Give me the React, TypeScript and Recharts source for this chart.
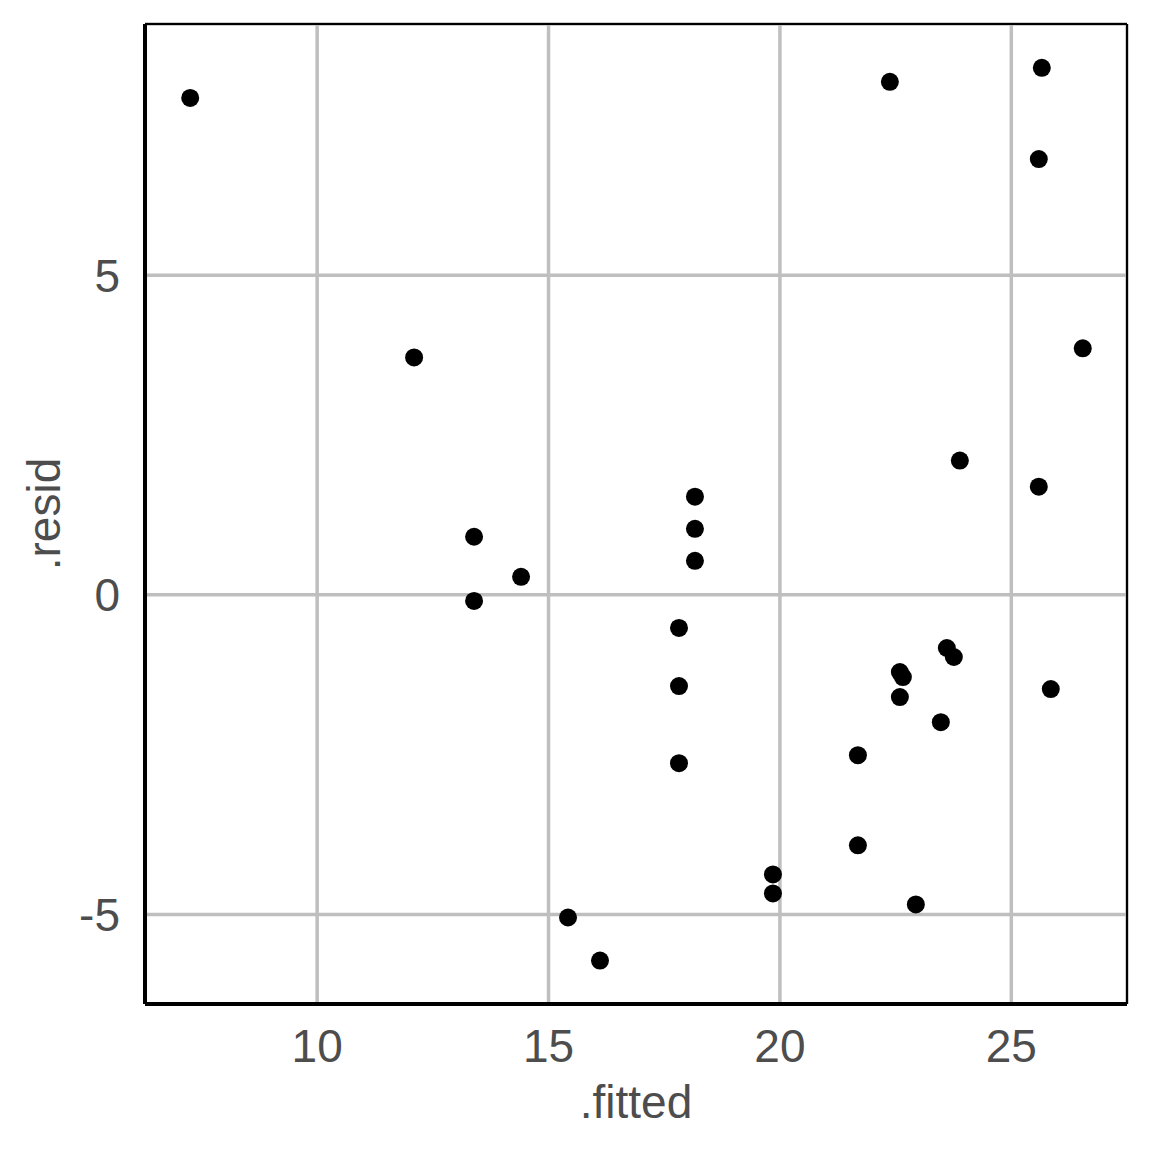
import { ScatterChart, Scatter, XAxis, YAxis, CartesianGrid, ReferenceLine } from "recharts";

// residuals vs fitted
const fitted = [
  7.257, 12.095, 13.391, 13.391, 14.406, 15.421, 16.112, 18.164, 18.164, 18.164,
  17.819, 17.819, 17.819, 19.849, 19.849, 21.685, 21.685, 22.376, 22.592, 22.657,
  22.592, 22.937, 23.477, 23.607, 23.758, 23.888, 25.594, 25.594, 25.659, 25.853,
  26.544,
];
const resid = [
  7.774, 3.715, 0.909, -0.094, 0.282, -5.047, -5.721, 1.536, 1.034, 0.533,
  -0.517, -1.426, -2.633, -4.373, -4.671, -2.508, -3.918, 8.025, -1.207, -1.285,
  -1.599, -4.843, -1.991, -0.831, -0.972, 2.1, 1.693, 6.818, 8.245, -1.473,
  3.856,
];
const xTicks = [10, 15, 20, 25];
const yTicks = [-5, 0, 5];
const xDomain = [6.28, 27.5];
const yDomain = [-6.4, 8.93];

const points = fitted.map((x, i) => ({ x, y: resid[i] }));

const font = "'Liberation Sans', Arial, sans-serif";
const textColor = "#4d4d4d";
const fontSize = 46;

function YTitle(props: any) {
  const { viewBox } = props;
  const cy = viewBox.y + viewBox.height / 2;
  const cx = 60;
  return (
    <text
      x={cx}
      y={cy}
      transform={`rotate(-90, ${cx}, ${cy})`}
      textAnchor="middle"
      fill={textColor}
      fontSize={fontSize}
      fontFamily={font}
    >
      .resid
    </text>
  );
}

export default function App() {
  return (
    <div style={{ position: "absolute", left: 0, top: 0, width: 1152, height: 1152, background: "#fff" }}>
      <ScatterChart width={1152} height={1152} margin={{ top: 24, right: 25, bottom: 0, left: 0 }}>
        <CartesianGrid stroke="#bfbfbf" strokeWidth={3.5} />
        <XAxis
          type="number"
          dataKey="x"
          domain={xDomain}
          ticks={xTicks}
          allowDataOverflow
          height={148}
          tickLine={false}
          tickMargin={19}
          axisLine={{ stroke: "#000", strokeWidth: 4 }}
          tick={{ fill: textColor, fontSize, fontFamily: font }}
          label={{ value: ".fitted", position: "insideBottom", offset: 34, fill: textColor, fontSize, fontFamily: font }}
        />
        <YAxis
          type="number"
          dataKey="y"
          domain={yDomain}
          ticks={yTicks}
          allowDataOverflow
          width={145}
          tickLine={false}
          tickMargin={19}
          axisLine={{ stroke: "#000", strokeWidth: 4 }}
          tick={{ fill: textColor, fontSize, fontFamily: font }}
          label={<YTitle />}
        />
        <ReferenceLine y={yDomain[1]} stroke="#000" strokeWidth={2} />
        <ReferenceLine x={xDomain[1]} stroke="#000" strokeWidth={2} />
        <Scatter
          data={points}
          isAnimationActive={false}
          shape={(p: any) => <circle cx={p.cx} cy={p.cy} r={9} fill="#000" />}
        />
      </ScatterChart>
    </div>
  );
}
